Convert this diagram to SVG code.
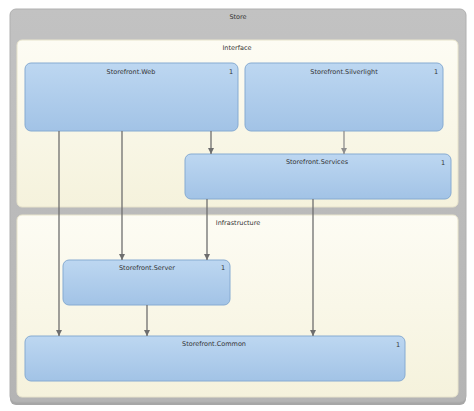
<svg xmlns="http://www.w3.org/2000/svg" width="474" height="411" viewBox="0 0 474 411">
<defs>
<linearGradient id="nodeG" x1="0" y1="0" x2="0" y2="1"><stop offset="0" stop-color="#bdd7f1"/><stop offset="1" stop-color="#a2c3e6"/></linearGradient>
<linearGradient id="layerG" x1="0" y1="0" x2="0" y2="1"><stop offset="0" stop-color="#fdfcf4"/><stop offset="1" stop-color="#f5f2dc"/></linearGradient>
<linearGradient id="storeG" x1="0" y1="0" x2="0" y2="1"><stop offset="0" stop-color="#c2c2c2"/><stop offset="1" stop-color="#b4b4b4"/></linearGradient>
<marker id="arr" viewBox="0 0 10 10" refX="10" refY="5" markerWidth="6" markerHeight="6" orient="auto" markerUnits="userSpaceOnUse"><path d="M0,0 L10,5 L0,10 z" fill="#6e6e6e"/></marker>
<marker id="arrL" viewBox="0 0 10 10" refX="10" refY="5" markerWidth="6" markerHeight="6" orient="auto" markerUnits="userSpaceOnUse"><path d="M0,0 L10,5 L0,10 z" fill="#8e8e8e"/></marker>
</defs>
<style>
.t{font-family:"DejaVu Sans","Liberation Sans",sans-serif;font-size:6.5px;fill:#333333;}
.node{fill:url(#nodeG);stroke:#86abd2;stroke-width:1;}
.layer{fill:url(#layerG);stroke:#e8e4cc;stroke-width:1;}
.c{stroke:#6e6e6e;stroke-width:1.3;fill:none;marker-end:url(#arr);}
.cl{stroke:#8e8e8e;stroke-width:1.3;fill:none;marker-end:url(#arrL);}
</style>
<rect width="474" height="411" fill="#ffffff"/>
<g id="store">
<rect x="10" y="10" width="456" height="395" rx="6" fill="#a6a6a6"/>
<rect x="10" y="9" width="456" height="393" rx="6" fill="url(#storeG)" stroke="#b0b0b0"/>
<text class="t" x="238" y="19" text-anchor="middle">Store</text>
</g>
<g id="interface">
<rect class="layer" x="17" y="40" width="441" height="167" rx="5"/>
<text class="t" x="237" y="50" text-anchor="middle">Interface</text>
</g>
<g id="infrastructure">
<rect class="layer" x="17" y="215" width="441" height="182" rx="5"/>
<text class="t" x="238" y="225" text-anchor="middle">Infrastructure</text>
</g>
<g id="web">
<rect class="node" x="25" y="63" width="213" height="68" rx="6"/>
<text class="t" x="131" y="74" text-anchor="middle">Storefront.Web</text>
<text class="t" x="231" y="74" text-anchor="middle">1</text>
</g>
<g id="silverlight">
<rect class="node" x="245" y="63" width="198" height="68" rx="6"/>
<text class="t" x="344" y="74" text-anchor="middle">Storefront.Silverlight</text>
<text class="t" x="436" y="74" text-anchor="middle">1</text>
</g>
<g id="services">
<rect class="node" x="185" y="154" width="266" height="45" rx="6"/>
<text class="t" x="317" y="164" text-anchor="middle">Storefront.Services</text>
<text class="t" x="443" y="165" text-anchor="middle">1</text>
</g>
<g id="server">
<rect class="node" x="63" y="260" width="167" height="45" rx="6"/>
<text class="t" x="147" y="270" text-anchor="middle">Storefront.Server</text>
<text class="t" x="223" y="270" text-anchor="middle">1</text>
</g>
<g id="common">
<rect class="node" x="25" y="336" width="380" height="45" rx="6"/>
<text class="t" x="214" y="346" text-anchor="middle">Storefront.Common</text>
<text class="t" x="398" y="347" text-anchor="middle">1</text>
</g>
<g id="connectors">
<line class="c" x1="59" y1="131" x2="59" y2="336"/>
<line class="c" x1="122" y1="131" x2="122" y2="260"/>
<line class="c" x1="211" y1="131" x2="211" y2="154"/>
<line class="cl" x1="344" y1="131" x2="344" y2="154"/>
<line class="c" x1="207" y1="199" x2="207" y2="260"/>
<line class="c" x1="313" y1="199" x2="313" y2="336"/>
<line class="c" x1="147" y1="305" x2="147" y2="336"/>
</g>
</svg>
